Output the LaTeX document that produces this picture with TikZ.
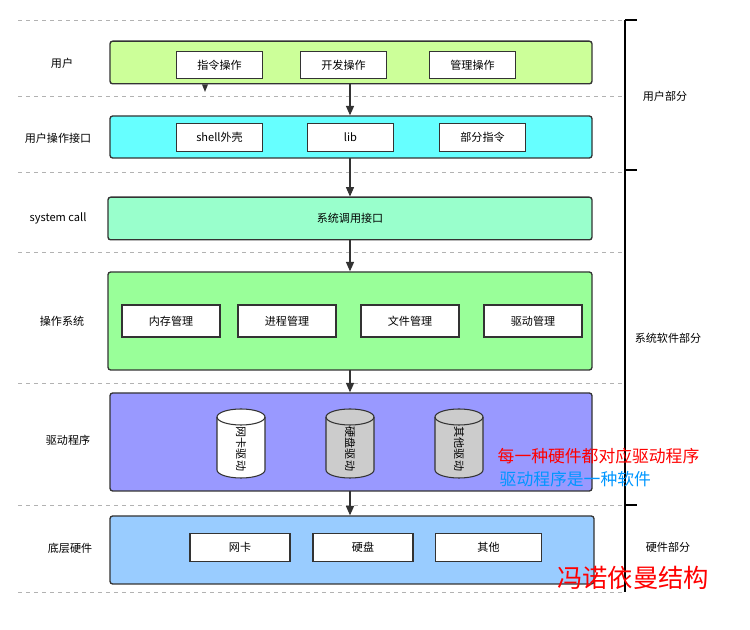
\documentclass[tikz,border=0pt]{standalone}
\usepackage{fontspec}
\setmainfont{Noto Sans CJK SC}
\usetikzlibrary{shapes.geometric,arrows.meta}
\begin{document}
\begin{tikzpicture}[x=0.75pt,y=-0.75pt,font=\fontsize{8.3}{10}\selectfont,
 blk/.style={draw=black!80,line width=1pt,rounded corners=2pt},
 ibox/.style={draw=black!80,line width=0.9pt,fill=white,minimum height=20.5pt,inner sep=0pt},
 sep/.style={draw=gray!60,dashed,line width=0.7pt},
 arr/.style={draw=black!80,line width=0.8pt,-{Triangle[length=7pt,width=6pt]}},
 cylln/.style={draw=black!80,line width=0.8pt}]
\useasboundingbox (0,0) rectangle (750,630);
\foreach \y in {20,96,172,252,383,505,592} \draw[sep] (18,\y) -- (622,\y);
% bracket
\draw[line width=0.9pt] (625,20) -- (625,592);
\foreach \y in {20,170,505} \draw[line width=0.9pt] (625,\y) -- (637,\y);
\node at (665,96) {用户部分};
\node at (668,338) {系统软件部分};
\node at (668,547) {硬件部分};
% left labels
\node at (62,63) {用户};
\node at (58,138) {用户操作接口};
\node at (58,218) {system call};
\node at (62,321) {操作系统};
\node at (68,440) {驱动程序};
\node at (70,548) {底层硬件};
% blocks
\node[blk,fill={rgb,255:red,204;green,255;blue,153},minimum width=361.5pt,minimum height=32pt] (b1) at (351,62.5) {};
\node[blk,fill={rgb,255:red,102;green,255;blue,255},minimum width=361.5pt,minimum height=31.5pt] (b2) at (351,137) {};
\node[blk,fill={rgb,255:red,153;green,255;blue,204},minimum width=363pt,minimum height=32pt] (b3) at (350,218.5) {系统调用接口};
\node[blk,fill={rgb,255:red,153;green,255;blue,153},minimum width=363pt,minimum height=73.5pt] (b4) at (350,321) {};
\node[blk,fill={rgb,255:red,153;green,153;blue,255},minimum width=361.5pt,minimum height=73.5pt] (b5) at (351,442) {};
\node[blk,fill={rgb,255:red,153;green,204;blue,255},minimum width=363pt,minimum height=51pt] (b6) at (352,550) {};
% inner boxes
\node[ibox,minimum width=64pt] (u1) at (219.5,65) {指令操作};
\node[ibox,minimum width=64pt] (u2) at (343.5,65) {开发操作};
\node[ibox,minimum width=64pt] (u3) at (472.5,65) {管理操作};
\node[ibox,minimum width=64pt] (i1) at (219.5,137.5) {shell外壳};
\node[ibox,minimum width=64pt] (i2) at (350.5,137.5) {lib};
\node[ibox,minimum width=64pt] (i3) at (482.5,137.5) {部分指令};
\node[ibox,minimum width=73.5pt,minimum height=24pt] (o1) at (171,321) {内存管理};
\node[ibox,minimum width=73.5pt,minimum height=24pt] (o2) at (287,321) {进程管理};
\node[ibox,minimum width=73.5pt,minimum height=24pt] (o3) at (410,321) {文件管理};
\node[ibox,minimum width=73.5pt,minimum height=24pt] (o4) at (533,321) {驱动管理};
\node[ibox,minimum width=75pt] (h1) at (240,547.5) {网卡};
\node[ibox,minimum width=75pt] (h2) at (363,547.5) {硬盘};
\node[ibox,minimum width=79pt] (h3) at (488.5,547.5) {其他};
% cylinders
\foreach \cx/\fc/\t in {241/white/网卡驱动,350/gray!40/硬盘驱动,459/gray!40/其他驱动}{
 \draw[cylln,fill=\fc] (\cx-24,417) -- (\cx-24,470) arc[start angle=180,end angle=0,x radius=24,y radius=8] -- (\cx+24,417) arc[start angle=360,end angle=180,x radius=24,y radius=8] -- cycle;
 \draw[cylln] (\cx-24,417) arc[start angle=180,end angle=0,x radius=24,y radius=8];
 \node[rotate=-90] at (\cx,449) {\t};
}
% arrows
\draw[arr] (350,84) -- (b2.north -| 350,0);
\draw[arr] (350,158) -- (b3.north -| 350,0);
\draw[arr] (350,240) -- (b4.north -| 350,0);
\draw[arr] (350,370) -- (b5.north -| 350,0);
\draw[arr] (350,491) -- (b6.north -| 350,0);
\fill[black!80] (202,84.5) -- (208,84.5) -- (205,92) -- cycle;
% annotations
\node[anchor=west,text=red,font=\fontsize{12.6}{14}\selectfont] at (493,456) {每一种硬件都对应驱动程序};
\node[anchor=west,text={rgb,255:red,0;green,150;blue,255},font=\fontsize{12.6}{14}\selectfont] at (495,479) {驱动程序是一种软件};
\node[text=red,font=\fontsize{19}{22}\selectfont] at (633,578) {冯诺依曼结构};
\end{tikzpicture}
\end{document}
